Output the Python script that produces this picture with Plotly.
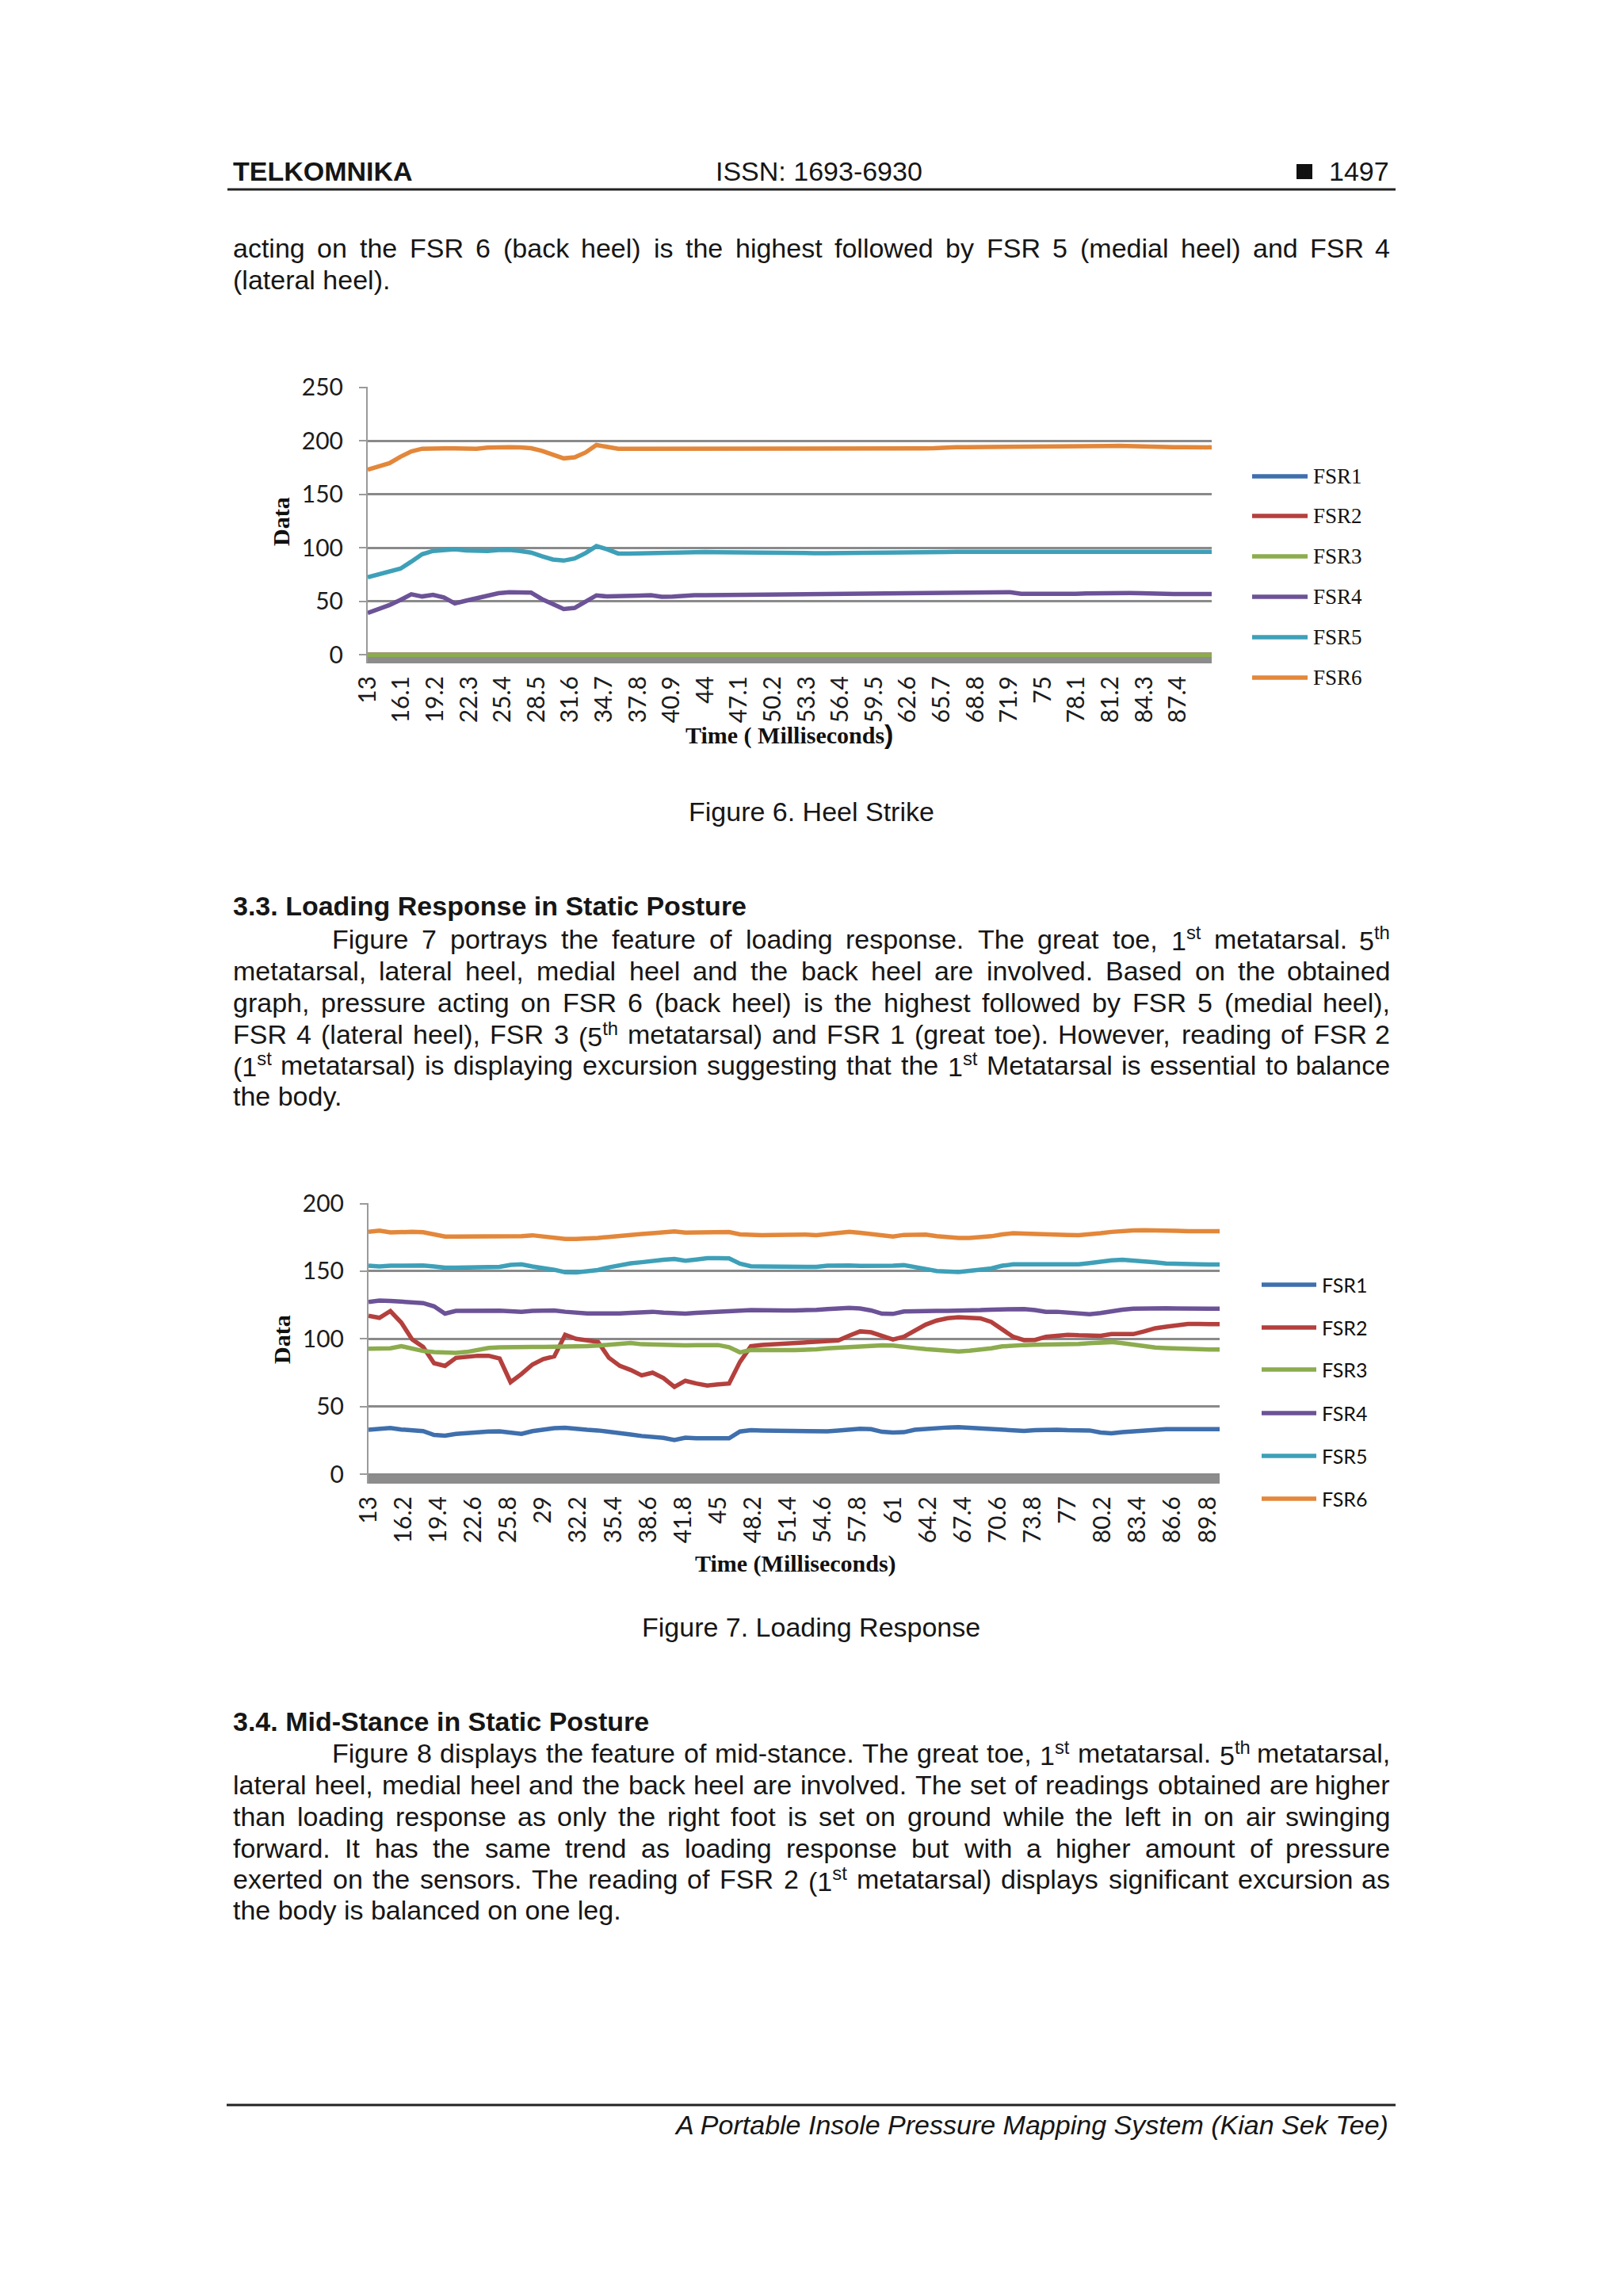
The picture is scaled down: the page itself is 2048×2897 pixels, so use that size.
import plotly.graph_objects as go

PAGE_W, PAGE_H = 2048, 2897

# ---------------- Figure 6 (Heel Strike) data ----------------
heel_time = list(range(13, 92))
heel_fsr1 = [0, 0, 0, 0, 0, 0, 0, 0, 0, 0,
             0, 0, 0, 0, 0, 0, 0, 0, 0, 0,
             0, 0, 0, 0, 0, 0, 0, 0, 0, 0,
             0, 0, 0, 0, 0, 0, 0, 0, 0, 0,
             0, 0, 0, 0, 0, 0, 0, 0, 0, 0,
             0, 0, 0, 0, 0, 0, 0, 0, 0, 0,
             0, 0, 0, 0, 0, 0, 0, 0, 0, 0,
             0, 0, 0, 0, 0, 0, 0, 0, 0]
heel_fsr2 = [0, 0, 0, 0, 0, 0, 0, 0, 0, 0,
             0, 0, 0, 0, 0, 0, 0, 0, 0, 0,
             0, 0, 0, 0, 0, 0, 0, 0, 0, 0,
             0, 0, 0, 0, 0, 0, 0, 0, 0, 0,
             0, 0, 0, 0, 0, 0, 0, 0, 0, 0,
             0, 0, 0, 0, 0, 0, 0, 0, 0, 0,
             0, 0, 0, 0, 0, 0, 0, 0, 0, 0,
             0, 0, 0, 0, 0, 0, 0, 0, 0]
heel_fsr3 = [0, 0, 0, 0, 0, 0, 0, 0, 0, 0,
             0, 0, 0, 0, 0, 0, 0, 0, 0, 0,
             0, 0, 0, 0, 0, 0, 0, 0, 0, 0,
             0, 0, 0, 0, 0, 0, 0, 0, 0, 0,
             0, 0, 0, 0, 0, 0, 0, 0, 0, 0,
             0, 0, 0, 0, 0, 0, 0, 0, 0, 0,
             0, 0, 0, 0, 0, 0, 0, 0, 0, 0,
             0, 0, 0, 0, 0, 0, 0, 0, 0]
heel_fsr4 = [39, 42.5, 46.5, 51.2, 56.5, 54.5, 56, 53.5, 48, 50.5,
             53, 54.5, 57.5, 58.5, 58.3, 58.1, 52, 47.5, 42.8, 43.8,
             50, 55.5, 54.5, 54.5, 55, 55.3, 55.6, 54.2, 54.3, 55.3,
             55.6, 55.7, 55.8, 56.2, 56.6, 56.6, 56.3, 56.5, 57, 57.1,
             57.1, 57.1, 57.1, 57.1, 57.2, 57.2, 57.3, 57.3, 57.3, 57.5,
             57.7, 58, 58.4, 58.6, 58.6, 58.7, 58.8, 58.8, 59, 58.5,
             57, 56.8, 56.8, 56.8, 56.9, 57, 57.3, 57.6, 57.6, 57.7,
             57.7, 57.6, 57, 56.8, 56.8, 56.8, 56.8, 56.8, 56.8]
heel_fsr5 = [72.5, 75, 77, 80.5, 87, 94, 97, 98, 98.6, 97.5,
             96.8, 97, 97.8, 98, 97, 95.5, 92, 89, 88, 90,
             95, 101.5, 98.5, 94.6, 94.6, 94.8, 95.2, 95.8, 96.2, 96.4,
             96.2, 96, 95.8, 95.6, 95.4, 95.4, 95.2, 95.4, 95.2, 95.2,
             95, 95, 95, 95, 95.2, 95.6, 95.8, 95.8, 95.6, 95.2,
             95.4, 95.4, 95.6, 96, 96.2, 96.2, 96.2, 96.2, 96.2, 96.4,
             96.6, 96.8, 96.8, 96.8, 96.8, 96.6, 96.4, 96.2, 96, 96,
             96, 96.2, 96.4, 96.2, 96, 96, 96, 96.2, 96.2]
heel_fsr6 = [173, 176, 179, 185, 190, 192.5, 193, 192.8, 192.8, 192.5,
             192.5, 193.5, 194, 194, 193.8, 193, 190.5, 186.5, 183.5, 184.5,
             189, 196, 194, 192.5, 192.5, 192.5, 192.5, 192.8, 192.5, 192.6,
             192.5, 192.3, 191.8, 192, 192, 192, 192.2, 192.4, 192.6, 192.6,
             192.6, 192.6, 192.6, 192.6, 192.6, 192.6, 192.7, 192.7, 192.7, 192.7,
             192.8, 192.8, 193, 193.8, 194, 194, 194, 194, 194, 194,
             194, 194, 194, 194, 194, 194, 194.2, 194.5, 195, 195.2,
             194.8, 194.2, 194, 194.2, 194, 194, 193.8, 193.8, 193.8]
heel_tickvals = [13, 16.1, 19.2, 22.3, 25.4, 28.5, 31.6, 34.7, 37.8, 40.9, 44, 47.1, 50.2,
                 53.3, 56.4, 59.5, 62.6, 65.7, 68.8, 71.9, 75, 78.1, 81.2, 84.3, 87.4]
heel_ticktext = ["13", "16.1", "19.2", "22.3", "25.4", "28.5", "31.6", "34.7", "37.8", "40.9",
                 "44", "47.1", "50.2", "53.3", "56.4", "59.5", "62.6", "65.7", "68.8", "71.9",
                 "75", "78.1", "81.2", "84.3", "87.4"]
heel_yticks = [0, 50, 100, 150, 200, 250]

# ---------------- Figure 7 (Loading Response) data ----------------
load_time = list(range(13, 92))
load_fsr1 = [32.8, 33.5, 34.1, 33, 32, 31.8, 29, 28.5, 29.7, 30.5,
             31.2, 31.5, 31.6, 30.5, 29.8, 31.8, 33, 34, 34.3, 33.2,
             32.8, 32.3, 31.5, 30.2, 29.3, 28.2, 27.5, 26.8, 25.2, 26.9,
             26.5, 26.3, 26.3, 26.5, 31.5, 32.5, 32.3, 32.2, 31.8, 31.6,
             31.8, 32, 31.6, 32.2, 33, 33.6, 33.2, 31.3, 30.8, 31,
             32.8, 33.6, 34, 34.5, 34.7, 34.2, 33.6, 33.2, 32.8, 32.2,
             32, 32.5, 32.8, 32.8, 32.5, 32.6, 32.3, 30.8, 30.2, 31,
             31.5, 32.5, 33, 33.2, 33.2, 33.2, 33.2, 33.2, 33.2]
load_fsr2 = [117, 115.5, 120.5, 112, 99.5, 94, 82, 80, 85.9, 86.8,
             87.5, 87.5, 85.5, 68, 74, 81, 85, 87, 103, 100,
             98.5, 97.8, 86, 80, 77, 73, 75, 71, 64.5, 69,
             67, 65.5, 66.3, 67, 83, 94.5, 95.5, 96, 96.6, 97,
             97.2, 97.8, 98.3, 98.8, 102.4, 105.5, 104.8, 102.3, 99.5, 101.5,
             106, 110.5, 113.5, 115.2, 116, 115.7, 115.1, 112.5, 106.5, 101.5,
             99, 99.2, 101.5, 102.5, 103, 102.6, 102.4, 102.2, 103.5, 103.8,
             103.5, 105.5, 107.8, 109, 110, 111, 111, 110.8, 110.8]
load_fsr3 = [92.7, 92.7, 93, 94.6, 92.5, 91, 90.2, 89.6, 89.6, 90.3,
             92, 93.3, 93.7, 94, 94, 94, 94, 94, 94.2, 94.4,
             94.6, 95, 95.6, 96.8, 97, 96, 95.6, 95.4, 95.2, 95.2,
             95.3, 95.4, 95.4, 93.8, 90, 91.8, 92, 91.8, 91.7, 91.7,
             91.8, 92.3, 93, 93.5, 93.7, 94.2, 94.8, 95.2, 95, 94.4,
             93.2, 92.4, 91.8, 91, 90.7, 91.2, 91.8, 93, 94.4, 95.2,
             95.4, 95.6, 95.6, 95.8, 96, 96.2, 96.8, 97.2, 97.6, 96.8,
             95.6, 94.5, 93.6, 93.2, 92.8, 92.4, 92.2, 92.1, 92.1]
load_fsr4 = [127.2, 128.2, 128, 127.2, 126.8, 126.4, 124, 118.6, 120.6, 120.8,
             121, 121, 120.8, 120.4, 120, 120.6, 121.2, 121, 120, 119,
             118.8, 118.8, 118.6, 118.8, 119.2, 119.6, 120, 119.4, 118.8, 118.6,
             119.2, 119.8, 120, 120.4, 120.8, 121.2, 121.4, 121.2, 121, 121,
             121, 121.4, 122, 122.4, 122.9, 122.4, 121, 118.6, 118.4, 120.2,
             120.6, 120.6, 120.6, 120.6, 120.6, 120.8, 121.2, 121.6, 121.8, 122,
             122, 121.2, 120, 120, 119.6, 119, 118.2, 119, 120.6, 121.5,
             122.2, 122.5, 122.5, 122.5, 122.4, 122.4, 122.3, 122.3, 122.3]
load_fsr5 = [154.1, 153.4, 154, 154.3, 154.5, 154.2, 153.5, 152.6, 152.6, 152.6,
             152.6, 152.8, 153.2, 154.6, 155, 153.5, 152.5, 151, 149.2, 149,
             149.9, 150.8, 152.8, 154.6, 155.8, 156.6, 157.7, 158.4, 159, 157.7,
             158.6, 159.6, 159.6, 159.4, 155.5, 153.6, 153.4, 153.2, 153, 152.7,
             152.8, 153.1, 154, 154.5, 154.2, 153.9, 153.8, 153.9, 154.1, 154.4,
             153.4, 151.6, 150.1, 149.5, 149.4, 150.2, 151.1, 152, 154, 155,
             155, 155, 155, 155, 155, 155.1, 156, 157.1, 158, 158.4,
             158, 157.4, 156.5, 155.6, 155.2, 155, 155, 154.9, 154.9]
load_fsr6 = [179.1, 180, 178.6, 179, 179, 178.8, 177, 175.6, 175.6, 175.6,
             175.6, 175.6, 175.5, 175.6, 175.8, 176.5, 175.5, 174.6, 173.8, 173.8,
             174, 174.6, 175.3, 176.2, 176.8, 177.4, 178, 178.5, 179.3, 178.5,
             178.4, 178.9, 179, 178.9, 177.2, 176.6, 176.6, 176.8, 177, 177.2,
             177, 176.6, 177.4, 178.2, 179.1, 178.4, 177.2, 176, 175.6, 176.8,
             177.2, 177, 175.8, 174.8, 174.6, 174.6, 175, 175.8, 177.2, 178,
             177.8, 177.4, 177.2, 177, 176.8, 176.6, 177, 178, 179, 179.8,
             180.1, 180.3, 180.4, 180.5, 179.8, 179.5, 179.5, 179.5, 179.5]
load_tickvals = [13, 16.2, 19.4, 22.6, 25.8, 29, 32.2, 35.4, 38.6, 41.8, 45, 48.2, 51.4,
                 54.6, 57.8, 61, 64.2, 67.4, 70.6, 73.8, 77, 80.2, 83.4, 86.6, 89.8]
load_ticktext = ["13", "16.2", "19.4", "22.6", "25.8", "29", "32.2", "35.4", "38.6", "41.8",
                 "45", "48.2", "51.4", "54.6", "57.8", "61", "64.2", "67.4", "70.6", "73.8",
                 "77", "80.2", "83.4", "86.6", "89.8"]
load_yticks = [0, 50, 100, 150, 200]

series_names = ["FSR1", "FSR2", "FSR3", "FSR4", "FSR5", "FSR6"]
series_colors = ["#3f6fad", "#b4403d", "#8cac4e", "#6c5297", "#3ea0b8", "#e3873a"]

# ---------------- styling constants ----------------
SANS = "Liberation Sans, Arial, sans-serif"
SERIF = "Liberation Serif, Times New Roman, serif"
TICKF = "Lato, Open Sans, sans-serif"
TXT = "#161616"
GRID = "#8a8a8a"
BAND = "#8c8c8c"
LW = 5.5

def px(x):
    return x / PAGE_W

def py(y):
    return 1 - y / PAGE_H

# Arial / Liberation Sans advance widths (1/1000 em)
ARIAL = dict(zip("ABCDEFGHIJKLMNOPQRSTUVWXYZ",
                 [667, 667, 722, 722, 667, 611, 778, 722, 278, 500, 667, 556, 833, 722, 778,
                  667, 778, 722, 667, 611, 722, 667, 944, 667, 667, 611]))
ARIAL.update(dict(zip("abcdefghijklmnopqrstuvwxyz",
                      [556, 556, 500, 556, 556, 278, 556, 556, 222, 222, 500, 222, 833, 556, 556,
                       556, 556, 333, 500, 278, 556, 500, 722, 500, 500, 500])))
ARIAL.update({c: 556 for c in "0123456789"})
ARIAL.update({" ": 278, ".": 278, ",": 278, "(": 333, ")": 333, "-": 333, ":": 278})


def text_w(s, size):
    total = 0.0
    i = 0
    while i < len(s):
        if s.startswith("<sup>", i):
            j = s.index("</sup>", i)
            total += 0.7 * sum(ARIAL.get(c, 556) for c in s[i + 5:j])
            i = j + 6
        else:
            total += ARIAL.get(s[i], 556)
            i += 1
    return total * size / 1000.0


annotations = []
shapes = []


def add_text(text, x, y, size=34, anchor="left", family=SANS, color=TXT, angle=0):
    annotations.append(dict(text=text, x=px(x), y=py(y), xref="paper", yref="paper",
                            xanchor=anchor, yanchor="middle", showarrow=False, borderpad=0,
                            font=dict(family=family, size=size, color=color), textangle=angle))


def justify(line, x0, x1, y, size=34):
    words = line.split(" ")
    widths = [text_w(w, size) for w in words]
    gap = (x1 - x0 - sum(widths)) / (len(words) - 1)
    x = x0
    for i, (w, wd) in enumerate(zip(words, widths)):
        if i == len(words) - 1:
            add_text(w, x1, y, size, anchor="right")
        else:
            add_text(w, x, y, size)
        x += wd + gap


LEFT, RIGHT, INDENT = 293, 1755, 418

# ---------------- header ----------------
add_text("<b>TELKOMNIKA</b>", LEFT, 216)
add_text("ISSN: 1693-6930", 1033, 216, anchor="center")
add_text("1497", 1754, 216, anchor="right")
shapes.append(dict(type="rect", xref="paper", yref="paper", x0=px(1636), x1=px(1656),
                   y0=py(226), y1=py(207), fillcolor="#111", line=dict(width=0)))
shapes.append(dict(type="line", xref="paper", yref="paper", x0=px(287), x1=px(1761),
                   y0=py(239), y1=py(239), line=dict(color="#222", width=3)))

# ---------------- paragraph 1 ----------------
justify("acting on the FSR 6 (back heel) is the highest followed by FSR 5 (medial heel) and FSR 4",
        LEFT, RIGHT, 313)
add_text("(lateral heel).", LEFT, 353)

add_text("Figure 6. Heel Strike", 1024, 1024, anchor="center")

# ---------------- section 3.3 ----------------
add_text("<b>3.3. Loading Response in Static Posture</b>", LEFT, 1143)
para2 = [
    ("Figure 7 portrays the feature of loading response. The great toe, 1<sup>st</sup> metatarsal. 5<sup>th</sup>", INDENT, 1185),
    ("metatarsal, lateral heel, medial heel and the back heel are involved. Based on the obtained", LEFT, 1225),
    ("graph, pressure acting on FSR 6 (back heel) is the highest followed by FSR 5 (medial heel),", LEFT, 1265),
    ("FSR 4 (lateral heel), FSR 3 (5<sup>th</sup> metatarsal) and FSR 1 (great toe). However, reading of FSR 2", LEFT, 1305),
    ("(1<sup>st</sup> metatarsal) is displaying excursion suggesting that the 1<sup>st</sup> Metatarsal is essential to balance", LEFT, 1344),
]
for line, x0, y in para2:
    justify(line, x0, RIGHT, y)
add_text("the body.", LEFT, 1383)

add_text("Figure 7. Loading Response", 1023, 2053, anchor="center")

# ---------------- section 3.4 ----------------
add_text("<b>3.4. Mid-Stance in Static Posture</b>", LEFT, 2172)
para3 = [
    ("Figure 8 displays the feature of mid-stance. The great toe, 1<sup>st</sup> metatarsal. 5<sup>th</sup> metatarsal,", INDENT, 2212),
    ("lateral heel, medial heel and the back heel are involved. The set of readings obtained are higher", LEFT, 2252),
    ("than loading response as only the right foot is set on ground while the left in on air swinging", LEFT, 2292),
    ("forward. It has the same trend as loading response but with a higher amount of pressure", LEFT, 2332),
    ("exerted on the sensors. The reading of FSR 2 (1<sup>st</sup> metatarsal) displays significant excursion as", LEFT, 2371),
]
for line, x0, y in para3:
    justify(line, x0, RIGHT, y)
add_text("the body is balanced on one leg.", LEFT, 2410)

# ---------------- footer ----------------
shapes.append(dict(type="line", xref="paper", yref="paper", x0=px(286), x1=px(1761),
                   y0=py(2656), y1=py(2656), line=dict(color="#222", width=3)))
add_text("<i>A Portable Insole Pressure Mapping System (Kian Sek Tee)</i>", 1753, 2681, anchor="right")

# ---------------- chart traces ----------------
fig = go.Figure()
heel_series = [heel_fsr1, heel_fsr2, heel_fsr3, heel_fsr4, heel_fsr5, heel_fsr6]
load_series = [load_fsr1, load_fsr2, load_fsr3, load_fsr4, load_fsr5, load_fsr6]
for name, col, vals in zip(series_names, series_colors, heel_series):
    fig.add_trace(go.Scatter(x=heel_time, y=vals, name=name, mode="lines",
                             line=dict(color=col, width=LW), xaxis="x", yaxis="y", showlegend=False))
for name, col, vals in zip(series_names, series_colors, load_series):
    fig.add_trace(go.Scatter(x=load_time, y=vals, name=name, mode="lines",
                             line=dict(color=col, width=LW), xaxis="x2", yaxis="y2", showlegend=False))

# plot areas (pixel boxes)
C1 = dict(x0=464, x1=1529, top=488, bottom=837)
C2 = dict(x0=465, x1=1539, top=1518, bottom=1872)


def xaxis_cfg(box, tickvals, ticktext, rng):
    return dict(domain=[px(box["x0"]), px(box["x1"])], range=rng, tickmode="array",
                tickvals=tickvals, ticktext=ticktext, tickangle=-90,
                tickfont=dict(family=TICKF, size=30, color="#1c1c1c"),
                showgrid=False, zeroline=False, showline=False, ticks="",
                ticklabelstandoff=9, automargin=False)


def yaxis_cfg(box, tickvals, rng):
    return dict(domain=[py(box["bottom"]), py(box["top"])], range=rng, tickmode="array",
                tickvals=tickvals, showgrid=True, gridcolor=GRID, gridwidth=3,
                zeroline=False, showline=True, linecolor="#9a9a9a", linewidth=2,
                ticks="outside", ticklen=9, tickwidth=2, tickcolor="#9a9a9a",
                tickfont=dict(family=TICKF, size=30, color="#1c1c1c"),
                ticklabelstandoff=14, automargin=False)


layout_axes = dict(
    xaxis=xaxis_cfg(C1, heel_tickvals, heel_ticktext, [13, 90.5]),
    yaxis=yaxis_cfg(C1, heel_yticks, [-8, 250.4]),
    xaxis2=dict(xaxis_cfg(C2, load_tickvals, load_ticktext, [13, 90.9]), anchor="y2"),
    yaxis2=dict(yaxis_cfg(C2, load_yticks, [-7, 200.3]), anchor="x2"),
)
layout_axes["xaxis"]["anchor"] = "y"
layout_axes["yaxis"]["anchor"] = "x"

# gray horizontal-axis bands below zero
shapes.append(dict(type="rect", xref="x", yref="y", x0=13, x1=90.5, y0=-8, y1=0,
                   fillcolor=BAND, line=dict(width=0), layer="below"))
shapes.append(dict(type="rect", xref="x2", yref="y2", x0=13, x1=90.9, y0=-7, y1=0,
                   fillcolor=BAND, line=dict(width=0), layer="below"))

# axis titles
add_text("<b>Data</b>", 355, 658, size=30, anchor="center", family=SERIF, color="#111", angle=-90)
add_text("<b>Time ( Milliseconds</b><span style=\"font-family:Liberation Sans;font-size:34px\"><b>)</b></span>",
         996, 926, size=30, anchor="center", family=SERIF, color="#111")
add_text("<b>Data</b>", 355, 1690, size=30, anchor="center", family=SERIF, color="#111", angle=-90)
add_text("<b>Time (Milliseconds)</b>", 1004, 1973, size=30, anchor="center", family=SERIF, color="#111")

# legends
leg1_y = [601, 651, 702, 753, 804, 855]
leg2_y = [1621, 1675, 1728, 1783, 1837, 1891]
for name, col, y in zip(series_names, series_colors, leg1_y):
    shapes.append(dict(type="line", xref="paper", yref="paper", x0=px(1580), x1=px(1650),
                       y0=py(y), y1=py(y), line=dict(color=col, width=LW)))
    add_text(name, 1656, y, size=27, family=SERIF, color="#111")
for name, col, y in zip(series_names, series_colors, leg2_y):
    shapes.append(dict(type="line", xref="paper", yref="paper", x0=px(1592), x1=px(1661),
                       y0=py(y), y1=py(y), line=dict(color=col, width=LW)))
    add_text(name, 1667, y, size=25, family=TICKF, color="#111")

fig.update_layout(
    width=PAGE_W, height=PAGE_H,
    margin=dict(l=0, r=0, t=0, b=0, pad=0, autoexpand=False),
    paper_bgcolor="white", plot_bgcolor="white", showlegend=False,
    annotations=annotations, shapes=shapes, **layout_axes,
)

POST = ("document.documentElement.style.margin='0';"
        "document.body.style.margin='0';document.body.style.padding='0';"
        "document.body.style.overflow='hidden';")
fig.write_html("out.html", config={"displayModeBar": False}, post_script=POST)
